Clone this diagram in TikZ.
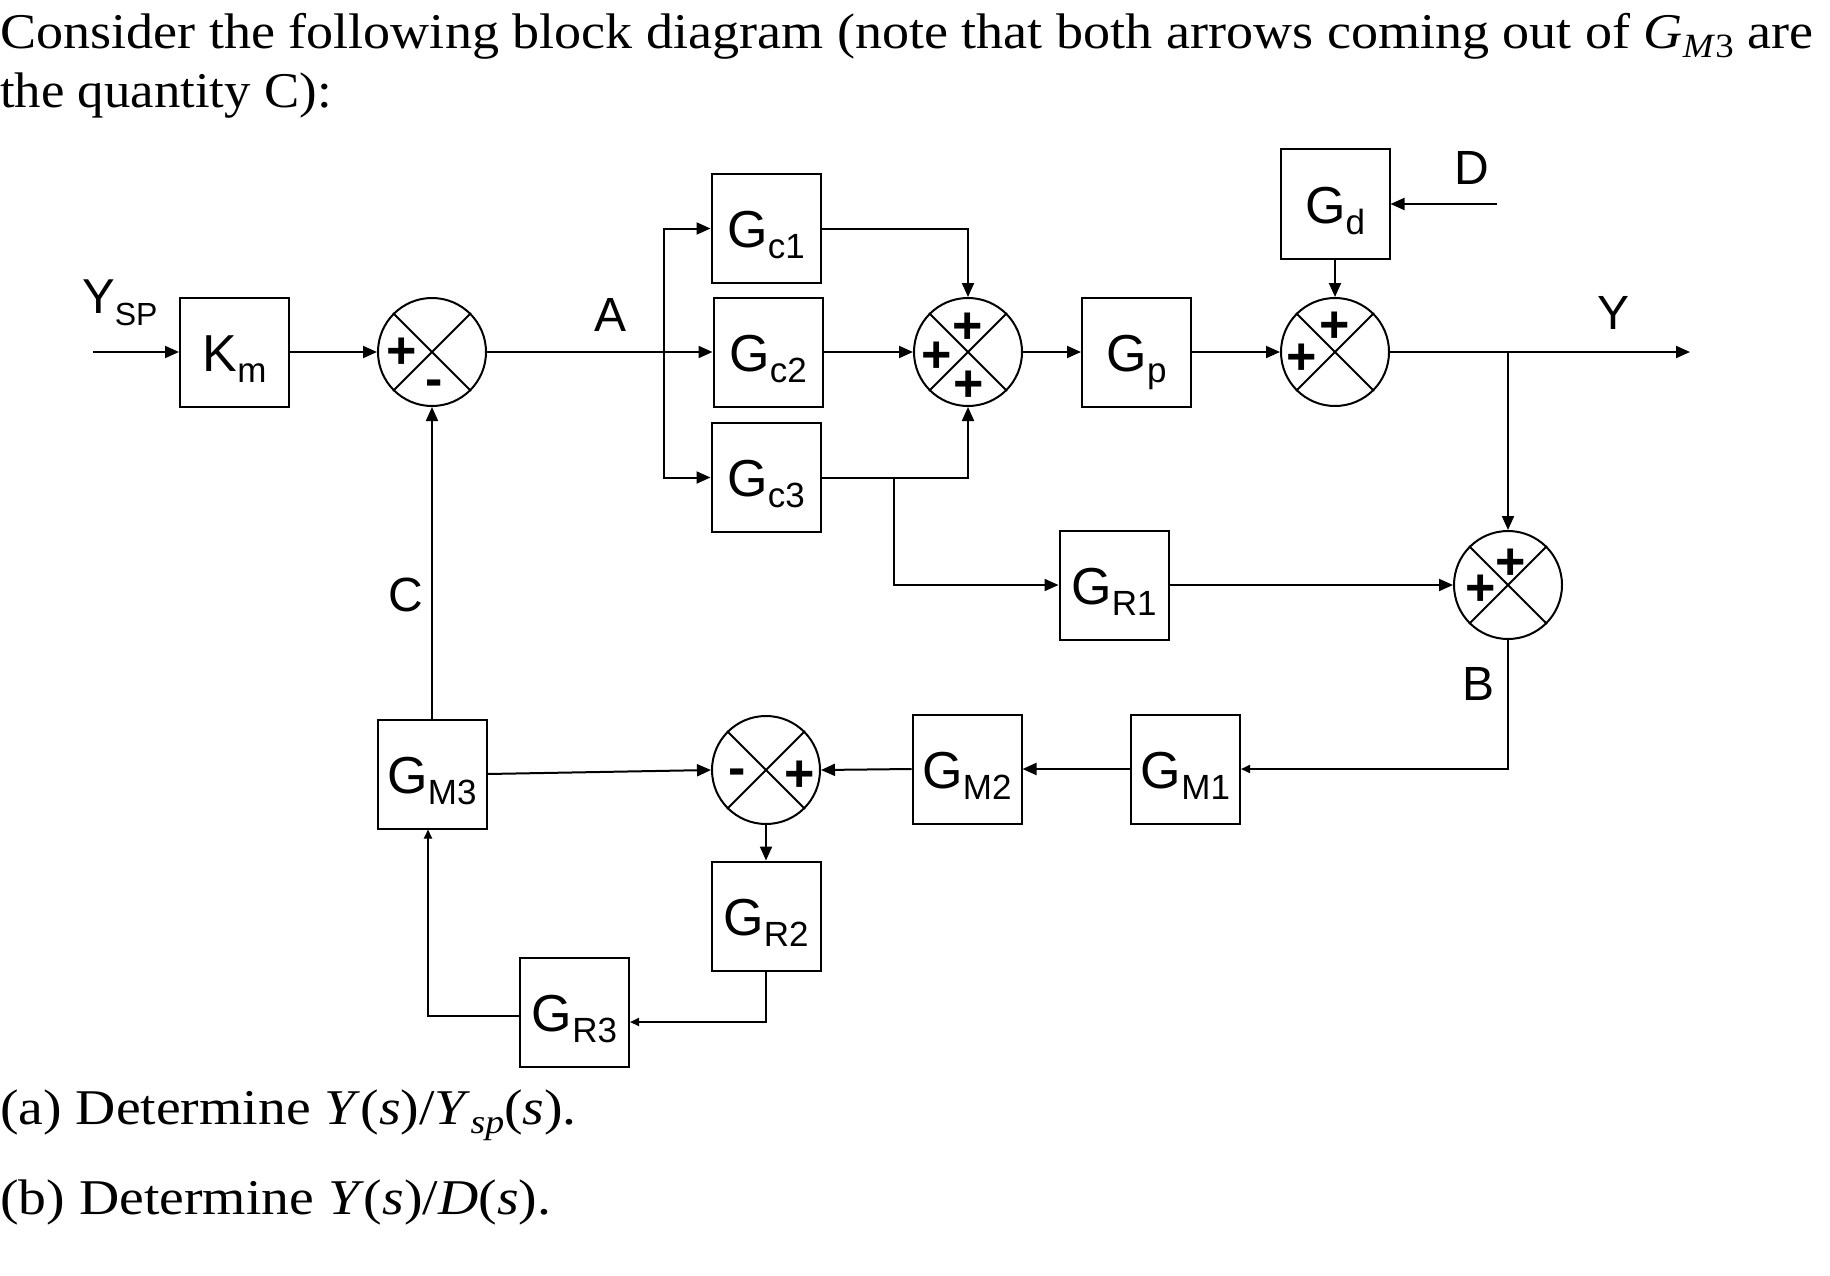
\documentclass[tikz,border=0pt]{standalone}
\usepackage{graphicx}
\usepackage{fontspec}
\setmainfont{Liberation Serif}
\newfontfamily\diag{Liberation Sans}
\usetikzlibrary{arrows.meta}
\newcommand{\gsub}[2]{{\fontsize{52}{52}\selectfont #1}\raisebox{-11pt}{\fontsize{35}{35}\selectfont #2}}
\newcommand{\txtsub}[1]{\raisebox{-9pt}{\fontsize{34}{34}\selectfont #1}}
\tikzset{
  blk/.style={draw, line width=2pt, minimum width=109pt, minimum height=109pt, inner sep=0pt,
              text height=38pt, text depth=0pt, font=\diag},
  sum/.style={draw, line width=2pt, circle, minimum size=108pt, inner sep=0pt},
  arr/.style={line width=2pt, -{Triangle[length=14pt,width=12pt]}},
  sarr/.style={line width=2pt, -{Triangle[length=9pt,width=8pt]}},
  ln/.style={line width=2pt},
  sgn/.style={inner sep=0pt, font=\diag\bfseries\fontsize{52}{52}\selectfont},
  lbl/.style={inner sep=0pt, font=\diag\fontsize{48}{48}\selectfont},
  txt/.style={inner sep=0pt, anchor=base west, font=\fontsize{50}{60}\selectfont}
}
\begin{document}
\begin{tikzpicture}[x=1pt,y=-1pt]
\useasboundingbox (0,0) rectangle (1830,1276);

% text
\node[txt] (t1) at (0,49) {\scalebox{1.082}[1]{Consider the following block diagram (note that both arrows coming out of \textit{G}\txtsub{\textit{M}3} are}};
\node[txt] (t2) at (0,108) {\scalebox{1.056}[1]{the quantity C):}};
\node[txt] (qa) at (0,1124) {\scalebox{1.113}[1]{(a) Determine \textit{Y}(\textit{s})/\textit{Y}\txtsub{\textit{sp}}(\textit{s}).}};
\node[txt] (qb) at (0,1214) {\scalebox{1.114}[1]{(b) Determine \textit{Y}(\textit{s})/\textit{D}(\textit{s}).}};

% blocks
\node[blk] (Km)  at (234.5,352) {\gsub{K}{m}};
\node[blk] (Gc1) at (766,228.5) {\gsub{G}{c1}};
\node[blk] (Gc2) at (768,352) {\gsub{G}{c2}};
\node[blk] (Gc3) at (766,477.5) {\gsub{G}{c3}};
\node[blk] (Gp)  at (1136.5,352) {\gsub{G}{p}};
\node[blk] (Gd)  at (1335,204) {\gsub{G}{d}};
\node[blk] (GR1) at (1114,585) {\gsub{G}{R1}};
\node[blk] (GM1) at (1185.5,769) {\gsub{G}{M1}};
\node[blk] (GM2) at (967,769) {\gsub{G}{M2}};
\node[blk] (GM3) at (432,774) {\gsub{G}{M3}};
\node[blk] (GR2) at (766,916) {\gsub{G}{R2}};
\node[blk] (GR3) at (574.5,1012) {\gsub{G}{R3}};

% summing junctions
\node[sum] (S1) at (432,352) {};
\node[sum] (S2) at (968,352) {};
\node[sum] (S3) at (1335,352) {};
\node[sum] (S4) at (1508,585) {};
\node[sum] (S5) at (766,770) {};
\foreach \s in {S1,S2,S3,S4,S5}{
  \draw[ln] (\s.45) -- (\s.225) (\s.135) -- (\s.-45);
}

% signs
\node[sgn] (s1a) at ([shift={(-30,1)}]S1.center) {+};
\node[sgn] (s1b) at ([shift={(2,36)}]S1.center) {-};
\node[sgn] (s2a) at ([shift={(0,-24)}]S2.center) {+};
\node[sgn] (s2b) at ([shift={(-31,5)}]S2.center) {+};
\node[sgn] (s2c) at ([shift={(1,34)}]S2.center) {+};
\node[sgn] (s3a) at ([shift={(0,-25)}]S3.center) {+};
\node[sgn] (s3b) at ([shift={(-33,7)}]S3.center) {+};
\node[sgn] (s4a) at ([shift={(3,-21)}]S4.center) {+};
\node[sgn] (s4b) at ([shift={(-27,5)}]S4.center) {+};
\node[sgn] (s5a) at ([shift={(-29,7)}]S5.center) {-};
\node[sgn] (s5b) at ([shift={(34,6)}]S5.center) {+};

% labels
\node[inner sep=0pt, anchor=base west, font=\diag] (lysp) at (82,313) {{\fontsize{49}{49}\selectfont Y}\raisebox{-12pt}{\fontsize{32}{32}\selectfont SP}};
\node[lbl] (lA) at (610,315) {A};
\node[lbl] (lC) at (406,595) {C};
\node[lbl] (lD) at (1472,168) {D};
\node[lbl] (lY) at (1613,313) {Y};
\node[lbl] (lB) at (1478,684) {B};

% coordinates
\coordinate (ysp) at (93,352);
\coordinate (br1) at (664,352);
\coordinate (br2) at (894,477.5);
\coordinate (din) at (1497,204);
\coordinate (yout) at (1690,352);
\coordinate (br3) at (1508,352);

% connectors
\draw[arr] (ysp) -- (Km.west);
\draw[arr] (Km.east) -- (S1.west);
\draw[arr] (S1.east) -- (Gc2.west);
\draw[arr] (br1) |- (Gc1.west);
\draw[arr] (br1) |- (Gc3.west);
\draw[arr] (Gc1.east) -| (S2.north);
\draw[arr] (Gc2.east) -- (S2.west);
\draw[arr] (Gc3.east) -| (S2.south);
\draw[arr] (br2) |- (GR1.west);
\draw[arr] (S2.east) -- (Gp.west);
\draw[arr] (Gp.east) -- (S3.west);
\draw[arr] (din) -- (Gd.east);
\draw[arr] (Gd.south) -- (S3.north);
\draw[arr] (S3.east) -- (yout);
\draw[arr] (br3) -- (S4.north);
\draw[arr] (GR1.east) -- (S4.west);
\draw[sarr] (S4.south) |- (GM1.east);
\draw[arr] (GM1.west) -- (GM2.east);
\draw[arr] (GM2.west) -- (S5.east);
\draw[arr] (GM3.east) -- (S5.west);
\draw[arr] (S5.south) -- (GR2.north);
\draw[sarr] (GR2.south) |- ([yshift=-10pt]GR3.east);
\draw[sarr] ([yshift=-4pt]GR3.west) -| ([xshift=-4pt]GM3.south);
\draw[arr] (GM3.north) -- (S1.south);
\end{tikzpicture}
\end{document}
